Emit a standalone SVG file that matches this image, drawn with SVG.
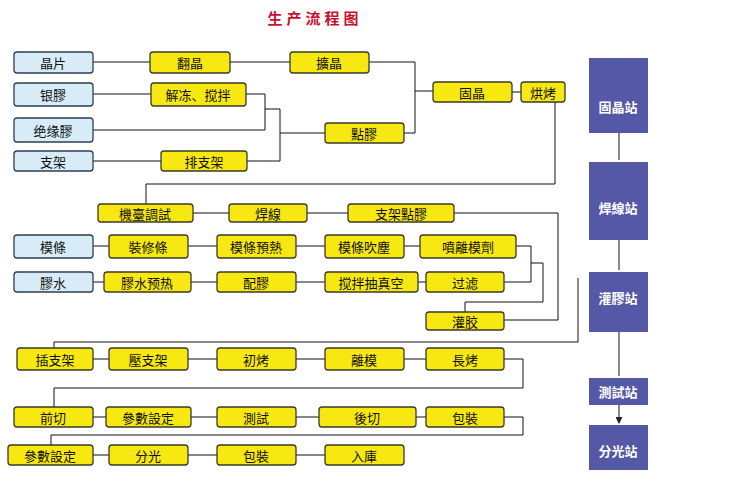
<svg xmlns="http://www.w3.org/2000/svg" width="745" height="493" viewBox="0 0 745 493">
<style>
.y{fill:#f7e812;stroke:#3a3a2a;stroke-width:1.3}
.b{fill:#d8ecf8;stroke:#2e3e50;stroke-width:1.3}
.s{fill:#5558a6}
text{font-family:"Noto Sans CJK SC","Noto Sans CJK TC",sans-serif;font-size:13px;text-anchor:middle;dominant-baseline:central;fill:#111}
.st{fill:#fff;font-weight:bold;font-size:13px}
.c{fill:none;stroke:#111;stroke-width:1}
</style>
<defs><marker id="a" viewBox="0 0 8 8" refX="7" refY="4" markerWidth="7" markerHeight="7" orient="auto"><path d="M0,0L8,4L0,8z" fill="#222"/></marker></defs>
<rect width="745" height="493" fill="#fff"/>
<text x="315" y="17" style="fill:#c8102e;font-weight:bold;font-size:15px;letter-spacing:4px">生产流程图</text>
<g id="connectors" class="c">
<path d="M93,62H150M230,62H290"/>
<path d="M369,62H415V133H404M415,91H433M512,92H521"/>
<path d="M93,94H151M246,94H265V130H93M265,109H280V161H247M93,161H161M280,133H325"/>
<path d="M555,102V184H146V204"/>
<path d="M193,213H229M307,213H348M454,213H558V320H504"/>
<path d="M93,246H109M188,246H217M296,246H325M404,246H420M516,246H531V282H504M531,263H543V302H465V312"/>
<path d="M93,282H104M191,282H217M296,282H325M418,282H426"/>
<path d="M578,278V342H54V348"/>
<path d="M93,359H109M188,359H217M296,359H325M404,359H426M504,359H523V388H54V407"/>
<path d="M93,417H106M191,417H217M296,417H319M416,417H426M504,417H523V435H51V445"/>
<path d="M93,455H109M188,455H217M296,455H325"/>
<path d="M619,133V160M619,240V270M619,332V376M619,405V423" marker-end="url(#a)"/>
</g>
<g id="n1"><rect class="b" x="14" y="52" width="79" height="21" rx="3"/><text x="53" y="62">晶片</text></g>
<g id="n2"><rect class="b" x="14" y="83" width="79" height="23" rx="3"/><text x="53" y="94">银膠</text></g>
<g id="n3"><rect class="b" x="14" y="118" width="79" height="24" rx="3"/><text x="53" y="130">绝缘膠</text></g>
<g id="n4"><rect class="b" x="14" y="151" width="79" height="20" rx="3"/><text x="53" y="161">支架</text></g>
<g id="n5"><rect class="y" x="150" y="52" width="80" height="21" rx="3"/><text x="190" y="62">翻晶</text></g>
<g id="n6"><rect class="y" x="290" y="52" width="79" height="21" rx="3"/><text x="329" y="62">擴晶</text></g>
<g id="n7"><rect class="y" x="151" y="83" width="95" height="23" rx="3"/><text x="198" y="94">解冻、搅拌</text></g>
<g id="n8"><rect class="y" x="161" y="151" width="86" height="20" rx="3"/><text x="204" y="161">排支架</text></g>
<g id="n9"><rect class="y" x="325" y="123" width="79" height="20" rx="3"/><text x="364" y="133">點膠</text></g>
<g id="n10"><rect class="y" x="433" y="82" width="79" height="20" rx="3"/><text x="472" y="92">固晶</text></g>
<g id="n11"><rect class="y" x="521" y="82" width="44" height="20" rx="3"/><text x="543" y="92">烘烤</text></g>
<g id="n12"><rect class="y" x="98" y="204" width="95" height="18" rx="3"/><text x="145" y="213">機臺調試</text></g>
<g id="n13"><rect class="y" x="229" y="204" width="78" height="18" rx="3"/><text x="268" y="213">焊線</text></g>
<g id="n14"><rect class="y" x="348" y="204" width="106" height="18" rx="3"/><text x="401" y="213">支架點膠</text></g>
<g id="n15"><rect class="b" x="14" y="235" width="79" height="23" rx="3"/><text x="53" y="246">模條</text></g>
<g id="n16"><rect class="y" x="109" y="235" width="79" height="23" rx="3"/><text x="148" y="246">裝修條</text></g>
<g id="n17"><rect class="y" x="217" y="235" width="79" height="23" rx="3"/><text x="256" y="246">模條預熱</text></g>
<g id="n18"><rect class="y" x="325" y="235" width="79" height="23" rx="3"/><text x="364" y="246">模條吹塵</text></g>
<g id="n19"><rect class="y" x="420" y="235" width="96" height="23" rx="3"/><text x="468" y="246">噴離模劑</text></g>
<g id="n20"><rect class="b" x="14" y="272" width="79" height="20" rx="3"/><text x="53" y="282">膠水</text></g>
<g id="n21"><rect class="y" x="104" y="272" width="87" height="20" rx="3"/><text x="147" y="282">膠水预热</text></g>
<g id="n22"><rect class="y" x="217" y="272" width="79" height="20" rx="3"/><text x="256" y="282">配膠</text></g>
<g id="n23"><rect class="y" x="325" y="272" width="93" height="20" rx="3"/><text x="371" y="282">搅拌抽真空</text></g>
<g id="n24"><rect class="y" x="426" y="272" width="78" height="20" rx="3"/><text x="465" y="282">过滤</text></g>
<g id="n25"><rect class="y" x="426" y="312" width="78" height="18" rx="3"/><text x="465" y="321">灌胶</text></g>
<g id="n26"><rect class="y" x="17" y="348" width="76" height="22" rx="3"/><text x="55" y="359">插支架</text></g>
<g id="n27"><rect class="y" x="109" y="348" width="79" height="22" rx="3"/><text x="148" y="359">壓支架</text></g>
<g id="n28"><rect class="y" x="217" y="348" width="79" height="22" rx="3"/><text x="256" y="359">初烤</text></g>
<g id="n29"><rect class="y" x="325" y="348" width="79" height="22" rx="3"/><text x="364" y="359">離模</text></g>
<g id="n30"><rect class="y" x="426" y="348" width="78" height="22" rx="3"/><text x="465" y="359">長烤</text></g>
<g id="n31"><rect class="y" x="14" y="407" width="79" height="20" rx="3"/><text x="53" y="417">前切</text></g>
<g id="n32"><rect class="y" x="106" y="407" width="85" height="20" rx="3"/><text x="148" y="417">參數設定</text></g>
<g id="n33"><rect class="y" x="217" y="407" width="79" height="20" rx="3"/><text x="256" y="417">測試</text></g>
<g id="n34"><rect class="y" x="319" y="407" width="97" height="20" rx="3"/><text x="367" y="417">後切</text></g>
<g id="n35"><rect class="y" x="426" y="407" width="78" height="20" rx="3"/><text x="465" y="417">包裝</text></g>
<g id="n36"><rect class="y" x="8" y="445" width="85" height="20" rx="3"/><text x="50" y="455">參數設定</text></g>
<g id="n37"><rect class="y" x="109" y="445" width="79" height="20" rx="3"/><text x="148" y="455">分光</text></g>
<g id="n38"><rect class="y" x="217" y="445" width="79" height="20" rx="3"/><text x="256" y="455">包裝</text></g>
<g id="n39"><rect class="y" x="325" y="445" width="79" height="20" rx="3"/><text x="364" y="455">入庫</text></g>
<g id="s1"><rect class="s" x="589" y="58" width="59" height="75"/><text class="st" x="618" y="106">固晶站</text></g>
<g id="s2"><rect class="s" x="589" y="162" width="59" height="78"/><text class="st" x="618" y="207">焊線站</text></g>
<g id="s3"><rect class="s" x="589" y="272" width="59" height="60"/><text class="st" x="618" y="297">灌膠站</text></g>
<g id="s4"><rect class="s" x="589" y="378" width="59" height="27"/><text class="st" x="618" y="391">測試站</text></g>
<g id="s5"><rect class="s" x="589" y="425" width="59" height="45"/><text class="st" x="618" y="450">分光站</text></g>
</svg>
